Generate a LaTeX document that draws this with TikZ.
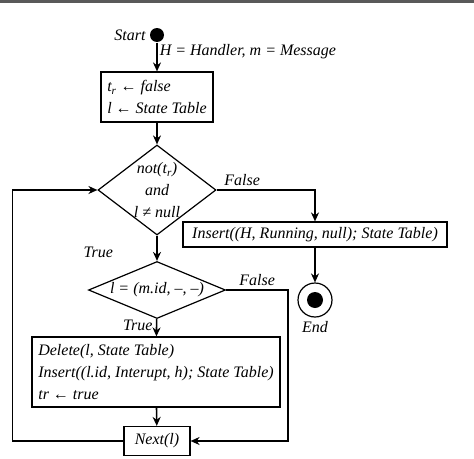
\documentclass[tikz,border=0pt]{standalone}
\usepackage{fontspec}
\setmainfont{Liberation Serif}
\usetikzlibrary{shapes.geometric,arrows.meta}
\begin{document}
\begin{tikzpicture}[x=1pt, y=-1pt, line width=1.2pt,
  every node/.style = {font=\fontsize{16}{22}\selectfont\itshape},
  proc/.style = {draw, rectangle, inner sep=3pt, align=left},
  cond/.style = {draw, diamond, inner sep=0pt},
  flow/.style = {-{Stealth[length=9pt,width=8pt]}, line width=1.6pt}]
  \useasboundingbox (0,0) rectangle (474,458);
  \fill[black!65] (0,0) rectangle (474,3);
  \node[circle, fill, inner sep=0pt, minimum size=14pt, label={left:Start}] (start) at (157,35) {};
  \node[proc, minimum width=112pt, minimum height=50pt] (init) at (157,97) {t\textsubscript{r} ← false\\ l ← State Table};
  \node[cond, minimum width=118pt, minimum height=90pt,
    label={[align=center]center:{not(t\textsubscript{r})\\ and\\ l ≠ null}}] (d1) at (157,190) {};
  \node[proc, minimum width=264pt, minimum height=25pt, inner sep=2pt] (ins) at (315,234.5) {Insert((H, Running, null); State Table)};
  \node[circle, draw, minimum size=34pt, label={below:End}] (endc) at (315,300) {};
  \fill (endc.center) circle (8pt);
  \node[cond, minimum width=137pt, minimum height=57pt,
    label={center:{l = (m.id, –, –)}}] (d2) at (157,290) {};
  \node[proc, minimum width=248pt, minimum height=70pt] (upd) at (156,372) {Delete(l, State Table)\\ Insert((l.id, Interupt, h); State Table)\\ tr ← true};
  \node[proc, minimum width=66pt, minimum height=29pt] (next) at (157,441) {Next(l)};
  \draw[flow] (start) -- node[right, pos=0.3, inner sep=2pt] {H = Handler, m = Message} (init);
  \draw[flow] (init) -- (d1);
  \draw[flow] (d1) -- node[pos=0.67, left=40pt] {True} (d2);
  \draw[flow] (d1.east) -| node[pos=0.13, above] {False} (ins);
  \draw[flow] (ins) -- (endc);
  \draw[flow] (d2) -- node[pos=0.35, left] {True} (upd);
  \draw[flow] (upd) -- (next);
  \draw[flow] (d2.east) -- node[above] {False} ++(62,0) |- (next);
  \draw[flow] (next.west) -- ++(-111,0) |- (d1);
\end{tikzpicture}
\end{document}
